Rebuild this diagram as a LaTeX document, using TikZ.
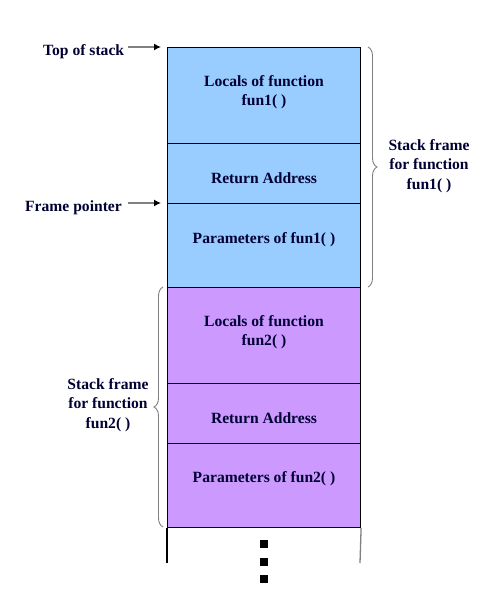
\documentclass[tikz,border=0pt]{standalone}
\usepackage{fontspec}
\setmainfont{Liberation Serif}
\usetikzlibrary{decorations.pathreplacing,arrows.meta}
\definecolor{bluecell}{HTML}{99CCFF}
\definecolor{purpcell}{HTML}{CC99FF}
\definecolor{txt}{HTML}{000033}
\definecolor{lgray}{HTML}{808080}
\tikzset{
  cell/.style={draw=black, line width=1.1pt, minimum width=193pt, anchor=north west, inner sep=0pt},
  bluebox/.style={cell, fill=bluecell},
  purpbox/.style={cell, fill=purpcell},
  lbl/.style={font=\bfseries\fontsize{15.6}{19.5}\selectfont, text=txt, align=center, inner sep=0pt},
  ptr/.style={draw=lgray, line width=1.3pt, -{Latex[length=7pt,width=7pt,black]}},
  brc/.style={draw=lgray, line width=0.9pt, decorate, decoration={brace, amplitude=9pt}},
  dotsq/.style={fill=black, minimum size=8pt, inner sep=0pt}
}
\begin{document}
\begin{tikzpicture}[x=1pt,y=-1pt]
\useasboundingbox[fill=white] (0,0) rectangle (489,613);
\node[bluebox, minimum height=96pt] (loc1) at (167,47) {};
\node[bluebox, minimum height=60pt] (ret1) at (167,143) {};
\node[bluebox, minimum height=84pt] (par1) at (167,203) {};
\node[purpbox, minimum height=96pt] (loc2) at (167,287) {};
\node[purpbox, minimum height=60pt] (ret2) at (167,383) {};
\node[purpbox, minimum height=84pt] (par2) at (167,443) {};
\node[lbl] (tloc1) at (264,92) {Locals of function\\fun1( )};
\node[lbl] (tret1) at (264,178) {Return Address};
\node[lbl] (tpar1) at (264,240) {Parameters of fun1( )};
\node[lbl] (tloc2) at (264,332) {Locals of function\\fun2( )};
\node[lbl] (tret2) at (264,418) {Return Address};
\node[lbl] (tpar2) at (264,479) {Parameters of fun2( )};
\coordinate (bl) at (167,563);
\coordinate (br) at (360,563);
\draw[black, line width=1.1pt] (par2.south west) -- (bl);
\draw[lgray, line width=1.3pt] (par2.south east) -- (br);
\node[dotsq] (d1) at (264,544) {};
\node[dotsq] (d2) at (264,562) {};
\node[dotsq] (d3) at (264,579) {};
% pointers
\node[lbl, anchor=west] (top) at (43,52) {Top of stack};
\coordinate (topstart) at (128,47);
\coordinate (topend) at (161,47);
\draw[ptr] (topstart) -- (topend);
\node[lbl, anchor=west] (fp) at (25,208) {Frame pointer};
\coordinate (fpstart) at (128,203);
\coordinate (fpend) at (161,203);
\draw[ptr] (fpstart) -- (fpend);
% braces
\coordinate (b1a) at (368,47);
\coordinate (b1b) at (368,287);
\draw[brc] (b1a) -- (b1b);
\node[lbl] (sf1) at (429,166) {Stack frame\\for function\\fun1( )};
\coordinate (b2a) at (163,527);
\coordinate (b2b) at (163,287);
\draw[brc] (b2a) -- (b2b);
\node[lbl] (sf2) at (108,405) {Stack frame\\for function\\fun2( )};
\end{tikzpicture}
\end{document}
